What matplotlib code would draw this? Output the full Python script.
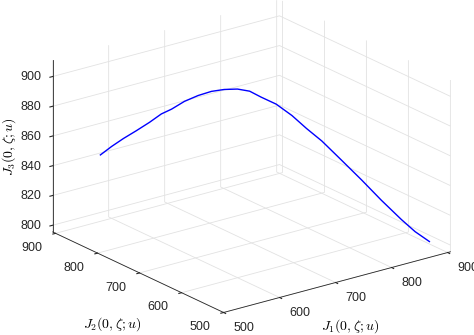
import matplotlib
matplotlib.use('Agg')
import matplotlib.pyplot as plt

# cost values along the trajectory
J1 = [550, 562, 574, 587, 601, 613, 624, 637, 651, 665, 678, 692,
      704, 716, 732, 748, 763, 779, 799, 820, 840, 861, 875, 890]
J2 = [860, 849, 837, 824, 811, 799, 789, 776, 762, 749, 736, 723,
      710, 699, 684, 668, 653, 638, 618, 598, 578, 558, 544, 530]
J3 = [848.5, 854.5, 860.2, 865.8, 871.8, 877.8, 881.3, 886.9, 891.3, 894.4, 896.1, 896.7,
      895.8, 892.1, 887.7, 880.6, 872.3, 864.3, 852.1, 839.3, 826.4, 813.9, 806.2, 799.9]

xticks = [500, 600, 700, 800, 900]
yticks = [500, 600, 700, 800, 900]
zticks = [800, 820, 840, 860, 880, 900]

plt.rcParams['font.family'] = 'Liberation Sans'
plt.rcParams['mathtext.fontset'] = 'cm'
plt.rcParams['grid.color'] = '#e2e2e2'
plt.rcParams['grid.linewidth'] = 0.6

W, H = 474, 335
fig = plt.figure(figsize=(W / 100, H / 100), dpi=100)
ax = fig.add_axes([10 / W, 7 / H, 1, 1], projection='3d', proj_type='ortho')
ax.view_init(elev=20.8, azim=-127)
ax.set_box_aspect((1, 1, 0.647), zoom=1.28)

ax.plot(J1, J2, J3, color='#0000ff', lw=1.0, clip_on=False)

ax.set_xlim(500, 905)
ax.set_ylim(500, 907)
ax.set_zlim(795.5, 911)
ax.set_xticks(xticks)
ax.set_yticks(yticks)
ax.set_zticks(zticks)

# MATLAB-like box: no panes, thin dark axes, inward ticks
for axis, pad, ha in ((ax.xaxis, -0.9, 'left'), (ax.yaxis, -0.9, 'right'), (ax.zaxis, -4.4, 'right')):
    axis.pane.set_visible(False)
    axis.line.set_color('#262626')
    axis.line.set_linewidth(0.6)
    axis._axinfo['tick']['inward_factor'] = 0.15
    axis._axinfo['tick']['outward_factor'] = 0.0
    axis.set_tick_params(labelsize=9, colors='#262626', pad=pad)
    for t in axis.get_major_ticks():
        t.label1.set_horizontalalignment(ha)
        t.label1.set_verticalalignment('center_baseline')

fig.text(350 / W, 1 - 326 / H, r'$J_1(0,\zeta;u)$', fontsize=10, ha='center', va='center')
fig.text(112 / W, 1 - 324 / H, r'$J_2(0,\zeta;u)$', fontsize=10, ha='center', va='center')
fig.text(9 / W, 1 - 147 / H, r'$J_3(0,\zeta;u)$', fontsize=10, ha='center', va='center', rotation=90)

fig.savefig('out.png')
